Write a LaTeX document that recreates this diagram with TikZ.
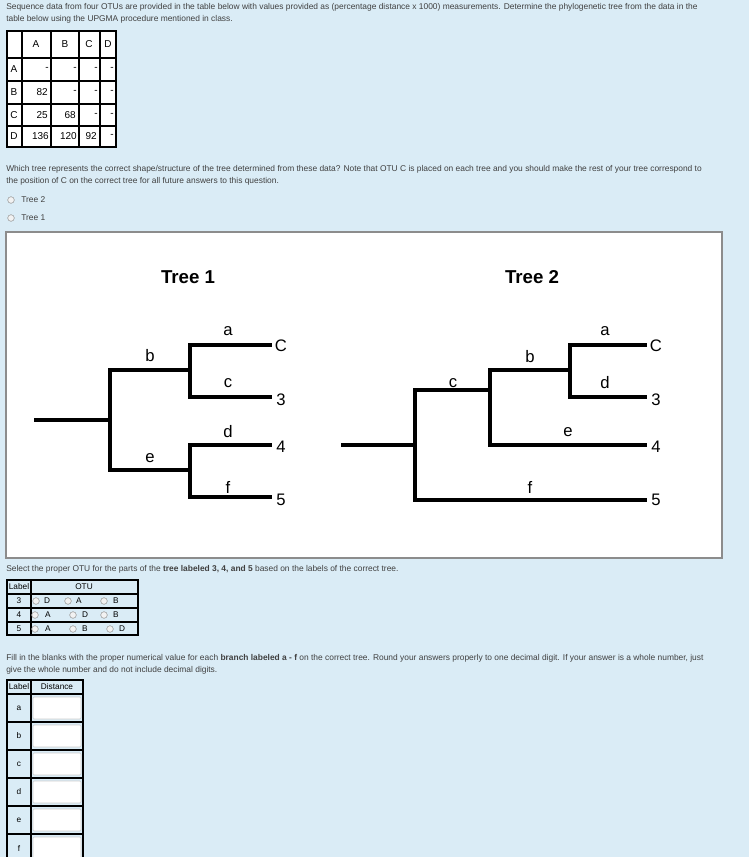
\documentclass[tikz,border=0pt]{standalone}
\usepackage{fontspec}
\setmainfont{Liberation Sans}
\begin{document}
\begin{tikzpicture}[x=0.75pt,y=-0.75pt,
  txt/.style={anchor=west,inner sep=0pt,text=black!75,font=\fontsize{6.3}{7}\selectfont},
  cell/.style={inner sep=0pt,font=\fontsize{7.5}{8}\selectfont},
  tcell/.style={inner sep=0pt,font=\fontsize{6.2}{7}\selectfont},
  br/.style={line width=2.6pt,line cap=rect},
  lab/.style={inner sep=0pt,font=\fontsize{12.5}{13}\selectfont},
  title/.style={inner sep=0pt,font=\bfseries\fontsize{14}{16}\selectfont},
  radio/.style={circle,draw=black!40,fill=black!5,inner sep=0pt,minimum size=5pt},
  grid/.style={line width=0.9pt}]
\useasboundingbox (0,0) rectangle (749,857);
\fill[fill={rgb,255:red,218;green,236;blue,246}] (0,0) rectangle (749,857);
% header text
\node[txt] (t1) at (6,7) {Sequence data from four OTUs are provided in the table below with values provided as (percentage distance x 1000) measurements. Determine the phylogenetic tree from the data in the};
\node[txt] (t2) at (6,19) {table below using the UPGMA procedure mentioned in class.};
% distance matrix
\fill[white] (7,31) rectangle (116,147);
\draw[grid] (7,31) rectangle (116,147);
\foreach \x in {22,51,79,100} \draw[grid] (\x,31) -- (\x,147);
\foreach \y in {58,81,104,126} \draw[grid] (7,\y) -- (116,\y);
\node[cell] (hA) at (36,44) {A}; \node[cell] (hB) at (65,44) {B}; \node[cell] (hC) at (89,44) {C}; \node[cell] (hD) at (108,44) {D};
\node[cell] (rA) at (14,69) {A}; \node[cell] (rB) at (14,92) {B}; \node[cell] (rC) at (14,115) {C}; \node[cell] (rD) at (14,136) {D};
\node[cell,anchor=east] at (49,69) {-}; \node[cell,anchor=east] at (77,69) {-}; \node[cell,anchor=east] at (98,69) {-}; \node[cell,anchor=east] at (114,69) {-};
\node[cell,anchor=east] at (48,92) {82}; \node[cell,anchor=east] at (77,92) {-}; \node[cell,anchor=east] at (98,92) {-}; \node[cell,anchor=east] at (114,92) {-};
\node[cell,anchor=east] at (48,115) {25}; \node[cell,anchor=east] at (76,115) {68}; \node[cell,anchor=east] at (98,115) {-}; \node[cell,anchor=east] at (114,115) {-};
\node[cell,anchor=east] at (49,136) {136}; \node[cell,anchor=east] at (77,136) {120}; \node[cell,anchor=east] at (97,136) {92}; \node[cell,anchor=east] at (114,136) {-};
% question
\node[txt] (q1) at (6,169) {Which tree represents the correct shape/structure of the tree determined from these data? Note that OTU C is placed on each tree and you should make the rest of your tree correspond to};
\node[txt] (q2) at (6,181) {the position of C on the correct tree for all future answers to this question.};
\node[radio] (r2) at (11,200) {}; \node[txt] (o2) at (21,200) {Tree 2};
\node[radio] (r1) at (11,218) {}; \node[txt] (o1) at (21,218) {Tree 1};
% tree panel
\draw[fill=white,draw=black!45,line width=0.8pt] (6,232) rectangle (722,558);
\node[title] (T1) at (188,277) {Tree 1};
\node[title] (T2) at (532,277) {Tree 2};
% tree 1
\draw[br] (36,420) -- (110,420);
\draw[br] (110,370) -- (110,470);
\draw[br] (110,370) -- (190,370); \draw[br] (110,470) -- (190,470);
\draw[br] (190,345) -- (190,397); \draw[br] (190,445) -- (190,497);
\draw[br] (190,345) -- (270,345); \draw[br] (190,397) -- (270,397);
\draw[br] (190,445) -- (270,445); \draw[br] (190,497) -- (270,497);
\node[lab] (l1C) at (281,346) {C}; \node[lab] (l13) at (281,400) {3};
\node[lab] (l14) at (281,447) {4}; \node[lab] (l15) at (281,500) {5};
\node[lab] at (228,331) {a}; \node[lab] at (150,356) {b}; \node[lab] at (228,383) {c};
\node[lab] at (228,432) {d}; \node[lab] at (150,458) {e}; \node[lab] at (228,487) {f};
% tree 2
\draw[br] (343,445) -- (415,445);
\draw[br] (415,390) -- (415,500);
\draw[br] (415,390) -- (490,390);
\draw[br] (490,370) -- (490,445);
\draw[br] (490,370) -- (570,370);
\draw[br] (570,345) -- (570,397);
\draw[br] (570,345) -- (645,345); \draw[br] (570,397) -- (645,397);
\draw[br] (490,445) -- (645,445);
\draw[br] (415,500) -- (645,500);
\node[lab] (l2C) at (656,346) {C}; \node[lab] (l23) at (656,400) {3};
\node[lab] (l24) at (656,447) {4}; \node[lab] (l25) at (656,500) {5};
\node[lab] at (605,331) {a}; \node[lab] at (530,357) {b}; \node[lab] at (453,383) {c};
\node[lab] at (605,383) {d}; \node[lab] at (568,432) {e}; \node[lab] at (530,487) {f};
% OTU table
\node[txt] (s1) at (6,569) {Select the proper OTU for the parts of the \textbf{tree labeled 3, 4, and 5} based on the labels of the correct tree.};
\draw[grid] (7,580) rectangle (138,635);
\draw[grid] (31,580) -- (31,635);
\foreach \y in {594,608,622} \draw[grid] (7,\y) -- (138,\y);
\node[tcell] at (19,587) {Label}; \node[tcell] at (84,587) {OTU};
\node[tcell] at (19,601) {3}; \node[tcell] at (19,615) {4}; \node[tcell] at (19,629) {5};
\node[radio] at (36,601) {}; \node[tcell] at (47,601) {D};
\node[radio] at (68,601) {}; \node[tcell] at (79,601) {A};
\node[radio] at (104,601) {}; \node[tcell] at (116,601) {B};
\node[radio] at (35,615) {}; \node[tcell] at (48,615) {A};
\node[radio] at (73,615) {}; \node[tcell] at (85,615) {D};
\node[radio] at (104,615) {}; \node[tcell] at (116,615) {B};
\node[radio] at (35,629) {}; \node[tcell] at (48,629) {A};
\node[radio] at (73,629) {}; \node[tcell] at (85,629) {B};
\node[radio] at (110,629) {}; \node[tcell] at (122,629) {D};
% distances
\node[txt] (f1) at (6,658) {Fill in the blanks with the proper numerical value for each \textbf{branch labeled a - f} on the correct tree. Round your answers properly to one decimal digit. If your answer is a whole number, just};
\node[txt] (f2) at (6,670) {give the whole number and do not include decimal digits.};
\draw[grid] (7,680) rectangle (83,870);
\draw[grid] (31,680) -- (31,870);
\foreach \y in {694,722,750,778,806,834} \draw[grid] (7,\y) -- (83,\y);
\node[tcell] at (19,687) {Label}; \node[tcell] at (57,687) {Distance};
\foreach \l [count=\i] in {a,b,c,d,e,f} {
  \node[tcell] at (19,{694+28*\i-14}) {\l};
  \draw[fill=white,draw=black!20,rounded corners=1pt] (33,{694+28*(\i-1)+3}) rectangle (81,{694+28*\i-3});
}
\end{tikzpicture}
\end{document}
